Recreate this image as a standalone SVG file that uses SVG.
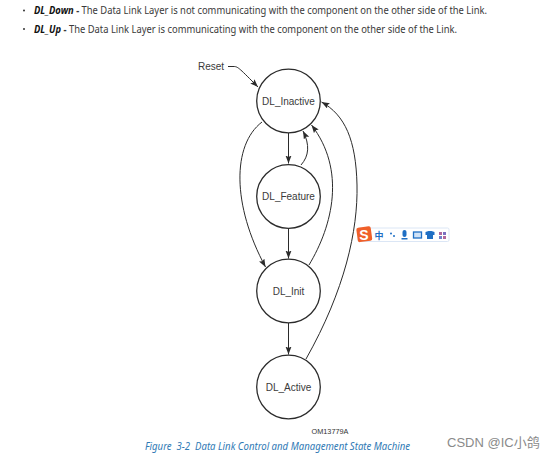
<svg xmlns="http://www.w3.org/2000/svg" width="554" height="458" viewBox="0 0 554 458">
<style>
.n{fill:#fff;stroke:#2b2b2b;stroke-width:1.3}
.l{font-family:"Liberation Sans",Arial,sans-serif;font-size:10px;fill:#3a3a3a;text-anchor:middle}
.c{fill:none;stroke:#2b2b2b;stroke-width:1}
.b{font-family:"Noto Sans",sans-serif;font-size:10px;fill:#3a3a3a}
.i{fill:#1f6fc4}
</style>
<defs><marker id="a" markerUnits="userSpaceOnUse" markerWidth="9" markerHeight="8" refX="8" refY="3" orient="auto"><path d="M0 0L8 3L0 6L1.500 3Z" fill="#2b2b2b"/></marker></defs>
<rect width="554" height="458" fill="#fff"/>
<g id="bullets">
<circle cx="24" cy="10.500" r="1" fill="#333"/><circle cx="24" cy="29" r="1" fill="#333"/>
<text class="b" x="34" y="14" textLength="453" lengthAdjust="spacingAndGlyphs"><tspan font-weight="700" font-style="italic" fill="#111">DL_Down</tspan> <tspan font-weight="700">-</tspan> The Data Link Layer is not communicating with the component on the other side of the Link.</text>
<text class="b" x="34" y="32.500" textLength="423" lengthAdjust="spacingAndGlyphs"><tspan font-weight="700" font-style="italic" fill="#111">DL_Up</tspan> <tspan font-weight="700">-</tspan> The Data Link Layer is communicating with the component on the other side of the Link.</text>
</g>
<g id="connectors">
<path class="c" marker-end="url(#a)" d="M228 66.500H234C238 66.500 240 69 258 87"/>
<path class="c" marker-end="url(#a)" d="M288.500 133V163.500"/>
<path class="c" marker-end="url(#a)" d="M301 165C309 156 310 145 303 131"/>
<path class="c" marker-end="url(#a)" d="M309 265C333 225 346 170 311.500 125"/>
<path class="c" marker-end="url(#a)" d="M306 359C345 290 358 230 357 185C356 140 345 115 321.500 102"/>
<path class="c" marker-end="url(#a)" d="M262 122C232 145 232 205 265.500 267"/>
<path class="c" marker-end="url(#a)" d="M288.500 228.500V258.500"/>
<path class="c" marker-end="url(#a)" d="M288.500 323V354.500"/>
</g>
<g id="reset"><text class="l" x="211" y="70">Reset</text></g>
<g id="DL_Inactive"><circle class="n" cx="288.500" cy="101" r="31.800"/><text class="l" x="288.500" y="104.500">DL_Inactive</text></g>
<g id="DL_Feature"><circle class="n" cx="288.500" cy="196.500" r="31.800"/><text class="l" x="288.500" y="200">DL_Feature</text></g>
<g id="DL_Init"><circle class="n" cx="288.500" cy="291" r="31.800"/><text class="l" x="288.500" y="295">DL_Init</text></g>
<g id="DL_Active"><circle class="n" cx="288.500" cy="387" r="31.800"/><text class="l" x="288.500" y="391">DL_Active</text></g>
<text x="330" y="433.500" font-family="Liberation Sans,sans-serif" font-size="7.300px" fill="#333" text-anchor="middle">OM13779A</text>
<text x="145" y="450" font-family="Noto Sans,sans-serif" font-style="italic" font-size="10px" fill="#2f7ab5" xml:space="preserve" textLength="265" lengthAdjust="spacingAndGlyphs">Figure  3-2  Data Link Control and Management State Machine</text>
<text x="447" y="447" font-family="Liberation Sans,'Noto Sans CJK SC',sans-serif" font-size="13px" fill="#8a8a8a">CSDN @IC小鸽</text>
<g id="ime-toolbar">
<rect x="358" y="228" width="91" height="13.500" rx="1.500" fill="#fff" stroke="#dbe6f5"/>
<rect x="357" y="227" width="14.500" height="14.500" rx="2" fill="#f0602a" transform="rotate(-8 364 234)"/>
<text x="364" y="239.500" font-family="Liberation Sans,sans-serif" font-weight="700" font-size="14px" fill="#fff" text-anchor="middle">S</text>
<text x="379" y="238.500" font-family="'Noto Sans CJK SC',sans-serif" font-weight="700" font-size="9px" fill="#1f6fc4" text-anchor="middle">中</text>
<circle class="i" cx="391" cy="233.500" r="1"/><circle class="i" cx="394" cy="236" r="1"/>
<rect class="i" x="402.500" y="230" width="4" height="7" rx="2"/><rect class="i" x="401.500" y="238" width="6" height="1.500"/>
<rect x="413.500" y="232" width="8" height="6" fill="#cfe2f7" stroke="#1f6fc4" stroke-width="1.300"/>
<path class="i" d="M425.500 232L428.500 231H431.500L434.500 232V235H433V239H427V235H425.500Z"/>
<rect x="439" y="232" width="3" height="3" fill="#b0679c"/><rect x="443" y="232" width="3" height="3" fill="#7a6fc0"/><rect x="439" y="236" width="3" height="3" fill="#6f7fc8"/><rect x="443" y="236" width="3" height="3" fill="#b0679c"/>
</g>
</svg>
